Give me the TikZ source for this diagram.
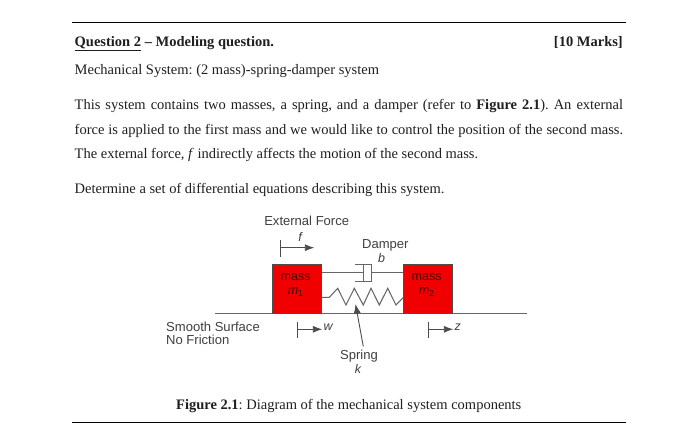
\documentclass[tikz,border=0pt]{standalone}
\usepackage{fontspec}
\setmainfont{Liberation Serif}
\newfontfamily\diagfont{Liberation Sans}
\usetikzlibrary{arrows.meta}
\frenchspacing
\tikzset{
 body/.style={anchor=base west,inner sep=0pt,text=black!88,font=\frenchspacing\fontsize{14.55}{16}\selectfont},
 lab/.style={inner sep=0pt,text=black!75,font=\diagfont\fontsize{13.1}{14}\selectfont},
 ilab/.style={inner sep=0pt,text=black!75,font=\diagfont\itshape\fontsize{12.5}{14}\selectfont},
 masslab/.style={inner sep=0pt,align=center,text=black!70!red,font=\diagfont\fontsize{12.6}{14}\selectfont},
 massbox/.style={draw=black!70,fill=red!94!black,line width=.9pt,minimum width=49bp,minimum height=49bp,inner sep=0pt},
 line/.style={draw=black!60,line width=1.05pt},
 marker/.style={draw=black!70,line width=.9pt,-{Latex[length=9.5bp,width=7bp]}},
 rule/.style={draw=black,line width=.8pt},
}
\begin{document}
\begin{tikzpicture}[x=1bp,y=-1bp]
\useasboundingbox (0,0) rectangle (698,434);
\fill[white] (0,0) rectangle (698,434);
% rules
\coordinate (r1a) at (72,22.5); \coordinate (r1b) at (626,22.5);
\coordinate (r2a) at (72,422); \coordinate (r2b) at (626,422);
\draw[rule] (r1a) -- (r1b);
\draw[rule] (r2a) -- (r2b);
% text
\node[body] (q) at (74.5,46.8) {\textbf{\underline{Question 2} -- Modeling question.}};
\node[body,anchor=base east] (marks) at (623,46.8) {\textbf{[10 Marks]}};
\node[body] (t0) at (74.5,75) {Mechanical System: (2 mass)-spring-damper system};
\node[body] (t1) at (74.5,109.8) {\makebox[548.5bp][s]{This system contains two masses, a spring, and a damper (refer to \textbf{Figure 2.1}). An external}};
\node[body] (t2) at (74.5,134.3) {\makebox[548.5bp][s]{force is applied to the first mass and we would like to control the position of the second mass.}};
\node[body] (t3) at (74.5,159) {The external force, \textit{f} indirectly affects the motion of the second mass.};
\node[body] (t4) at (74.5,193.8) {Determine a set of differential equations describing this system.};
\node[body] (cap) at (176,409) {\textbf{Figure 2.1}: Diagram of the mechanical system components};
% diagram
\coordinate (gl) at (215,313.5); \coordinate (gr) at (526.5,313.5);
\draw[line] (gl) -- (gr);
\node[massbox] (m1) at (297.2,289) {};
\node[massbox] (m2) at (428.4,289) {};
\node[masslab] (m1t) at (295.7,285.3) {mass\\\textit{m}\textsubscript{1}};
\node[masslab] (m2t) at (426.7,285.3) {mass\\\textit{m}\textsubscript{2}};
% damper
\coordinate (pist) at (363.3,272.7);
\coordinate (ct) at (363.3,264.5); \coordinate (cb) at (363.3,281.5);
\coordinate (cr) at (371.7,272.7);
\draw[line] (m1.east |- pist) -- (pist);
\draw[line] (ct) -- (cb);
\draw[line] (355,264.5) -- (371.7,264.5) -- (371.7,281.5) -- (355,281.5);
\draw[line] (cr) -- (m2.west |- cr);
% spring
\draw[line] (m1.east |- 0,297.3) -- (329.3,297.3) -- (337.7,288.3) -- (346,305) -- (354.3,288.3) -- (363.3,305) -- (371,288.3) -- (379.3,305) -- (387.7,288.3) -- (396,305) -- (m2.west |- 0,297.3);
% spring pointer
\node[lab] (spr) at (359,355.7) {Spring};
\node[ilab] (k) at (358,368.5) {k};
\coordinate (sp) at (355.5,304);
\coordinate (spt) at (363.3,346.5);
\draw[marker] (spt) -- (sp);
% external force
\node[lab] (ef) at (306.7,220.7) {External Force};
\node[ilab] (f) at (300,236.5) {f};
\coordinate (fa) at (280.7,247.7); \coordinate (fb) at (314.3,247.7);
\draw[marker] (fa) -- (fb);
\draw[marker,-] (280.7,240) -- (280.7,256.7);
\node[lab] (dm) at (385.3,245.3) {Damper};
\node[ilab] (b) at (381.7,258) {b};
% w, z
\coordinate (wa) at (297.3,329.3); \coordinate (wb) at (322.3,329.3);
\draw[marker] (wa) -- (wb);
\draw[marker,-] (297.3,321.7) -- (297.3,338.3);
\node[ilab] (w) at (328,327.7) {w};
\coordinate (za) at (428.3,329.3); \coordinate (zb) at (453.3,329.3);
\draw[marker] (za) -- (zb);
\draw[marker,-] (428.3,321.7) -- (428.3,338.3);
\node[ilab] (z) at (457.7,327.7) {z};
\node[lab,anchor=west] (s1) at (166,327.3) {Smooth Surface};
\node[lab,anchor=west] (s2) at (166,340) {No Friction};
\end{tikzpicture}
\end{document}
